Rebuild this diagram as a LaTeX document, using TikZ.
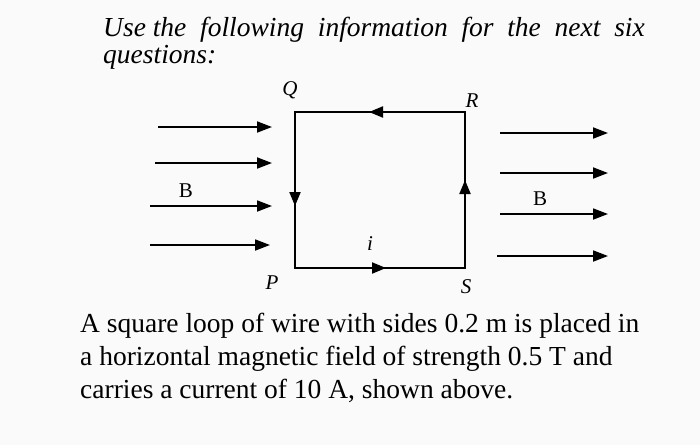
\documentclass[tikz,border=0pt]{standalone}
\usepackage{fontspec}
\setmainfont{Liberation Serif}
\usetikzlibrary{arrows.meta,decorations.markings}
\begin{document}
\begin{tikzpicture}[x=1pt,y=-1pt,
  fld/.style={line width=1.8pt,-{Triangle[length=15pt,width=11pt]}},
  wire/.style={line width=2.2pt},
  lbl/.style={font=\fontsize{21}{21}\selectfont\itshape},
  txt/.style={anchor=west,inner sep=0pt,font=\fontsize{27.5}{27.5}\selectfont}]
\fill[white!96!gray] (0,0) rectangle (700,445);
\useasboundingbox (0,0) rectangle (700,445);
\node[txt,font=\fontsize{27.5}{27.5}\selectfont\itshape] (t1) at (103,30) {Use\ the\ \ following\ \ information\ \ for\ \ the\ \ next\ \ six};
\node[txt,font=\fontsize{27.5}{27.5}\selectfont\itshape] (t2) at (103,57) {questions:};
\coordinate (P) at (295,268); \coordinate (S) at (465,268);
\coordinate (R) at (465,112); \coordinate (Q) at (295,112);
\draw[wire,line join=miter] (P)--(S)--(R)--(Q)--cycle;
\begin{scope}[-{Triangle[length=14pt,width=11pt]},line width=2pt]
\draw (360,268)--(386,268);
\draw (465,204)--(465,180);
\draw (395,112)--(369,112);
\draw (295,180)--(295,206);
\end{scope}
\node[lbl] (lq) at (290,90) {Q};
\node[lbl] (lr) at (472,101) {R};
\node[lbl] (lp) at (272,283) {P};
\node[lbl] (ls) at (466,287) {S};
\node[lbl] (li) at (370,244) {i};
\coordinate (a1) at (158,127); \coordinate (b1) at (272,127);
\coordinate (a2) at (155,163); \coordinate (b2) at (272,163);
\coordinate (a3) at (150,206); \coordinate (b3) at (272,206);
\coordinate (a4) at (150,245); \coordinate (b4) at (270,245);
\foreach \i in {1,...,4} \draw[fld] (a\i)--(b\i);
\coordinate (c1) at (500,133); \coordinate (d1) at (608,133);
\coordinate (c2) at (500,173); \coordinate (d2) at (608,173);
\coordinate (c3) at (500,214); \coordinate (d3) at (608,214);
\coordinate (c4) at (497,256); \coordinate (d4) at (608,256);
\foreach \i in {1,...,4} \draw[fld] (c\i)--(d\i);
\node[font=\fontsize{21}{21}\selectfont] (bl) at (186,191) {B};
\node[font=\fontsize{21}{21}\selectfont] (br) at (540,199) {B};
\node[txt] (l1) at (80,326) {A square loop of wire with sides 0.2 m is placed in};
\node[txt] (l2) at (80,359) {a horizontal magnetic field of strength 0.5 T and};
\node[txt] (l3) at (80,391) {carries a current of 10 A, shown above.};
\end{tikzpicture}
\end{document}
